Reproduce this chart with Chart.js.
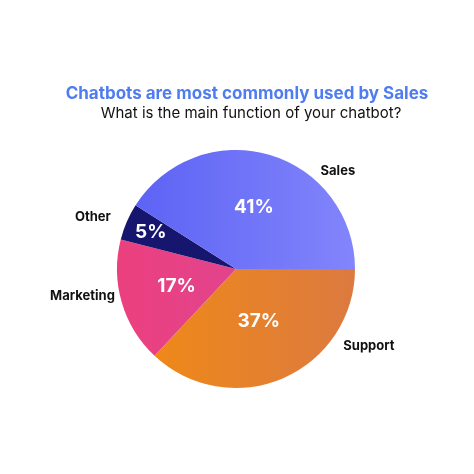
<!DOCTYPE html>
<html>
<head>
<meta charset="utf-8">
<script src="https://cdn.jsdelivr.net/npm/chart.js@4.4.1/dist/chart.umd.min.js"></script>
<style>
  html, body { margin: 0; padding: 0; background: #fff; }
  #wrap { width: 474px; height: 474px; }
</style>
</head>
<body>
<div id="wrap"><canvas id="chart"></canvas></div>
<script>
var title = 'Chatbots are most commonly used by Sales';
var subtitle = 'What is the main function of your chatbot?';

// clockwise from 3 o'clock
var labels = ['Support', 'Marketing', 'Other', 'Sales'];
var values = [37, 17, 5, 41];

// gradient colours, left -> right
var colorsFrom = ['#f28b12', '#ec407e', '#17166e', '#5a60f4'];
var colorsTo = ['#dc7a40', '#d6479c', '#17166e', '#8285fb'];

// where the labels sit (angle in degrees, clockwise from 3 o'clock / radius multiple)
var pctRadius = [0.48, 0.52, 0.78, 0.54];
var nameAngle = [30, 170, 200, -44];
var nameRadius = [1.29, 1.31, 1.28, 1.19];

function sliceColor(ctx) {
    var chart = ctx.chart;
    var area = chart.chartArea;
    if (!area || !isFinite(area.left)) return colorsFrom[ctx.dataIndex];
    var cx = (area.left + area.right) / 2;
    var r = Math.min(area.right - area.left, area.bottom - area.top) / 2;
    var g = chart.ctx.createLinearGradient(cx - r, 0, cx + r, 0);
    g.addColorStop(0, colorsFrom[ctx.dataIndex]);
    g.addColorStop(1, colorsTo[ctx.dataIndex]);
    return g;
}

var labelPlugin = {
    id: 'labelPlugin',
    afterDraw: function (chart) {
        var ctx = chart.ctx;
        var meta = chart.getDatasetMeta(0);
        ctx.save();
        ctx.textAlign = 'center';
        ctx.textBaseline = 'middle';

        // titles
        ctx.fillStyle = '#4f7cf0';
        ctx.font = 'bold 17px Inter, "Noto Sans", sans-serif';
        ctx.fillText(title, 247, 94);
        ctx.fillStyle = '#111';
        ctx.font = '15px Inter, "Noto Sans", sans-serif';
        ctx.fillText(subtitle, 251, 113);

        meta.data.forEach(function (arc, i) {
            var mid = (arc.startAngle + arc.endAngle) / 2;
            var r = arc.outerRadius;
            // percentages
            ctx.fillStyle = '#fff';
            ctx.font = 'bold 19px Inter, "Noto Sans", sans-serif';
            ctx.fillText(values[i] + '%', arc.x + Math.cos(mid) * r * pctRadius[i], arc.y + Math.sin(mid) * r * pctRadius[i]);
            // category names
            var a = nameAngle[i] * Math.PI / 180;
            ctx.fillStyle = '#111';
            ctx.font = 'bold 13px Inter, "Noto Sans", sans-serif';
            ctx.fillText(labels[i], arc.x + Math.cos(a) * r * nameRadius[i], arc.y + Math.sin(a) * r * nameRadius[i]);
        });
        ctx.restore();
    }
};

var chart = new Chart(document.getElementById('chart'), {
    type: 'pie',
    data: {
        labels: labels,
        datasets: [{
            data: values,
            backgroundColor: sliceColor,
            borderWidth: 0
        }]
    },
    options: {
        responsive: true,
        maintainAspectRatio: false,
        animation: false,
        rotation: 90,
        layout: { padding: { top: 150, bottom: 86, left: 0, right: 2 } },
        plugins: {
            legend: { display: false },
            tooltip: { enabled: false }
        }
    },
    plugins: [labelPlugin]
});
</script>
</body>
</html>
